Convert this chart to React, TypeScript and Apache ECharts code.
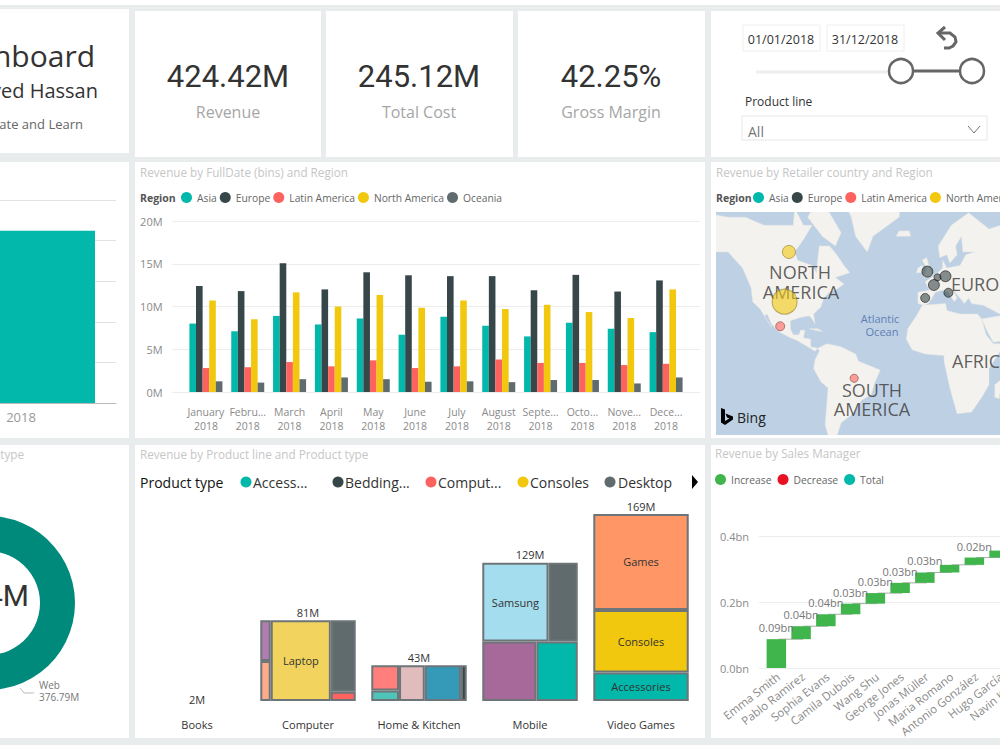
import React, { useEffect, useRef } from "react";
import * as echarts from "echarts";

const FONT = '"Open Sans", sans-serif';
const C_ASIA = "#01b8aa";
const C_EUROPE = "#374649";
const C_LATIN = "#fd625e";
const C_NORTH = "#f2c80f";
const C_OCEANIA = "#5f6b6d";

// KPI
const kpiValues = ["424.42M", "245.12M", "42.25%"];
const kpiLabels = ["Revenue", "Total Cost", "Gross Margin"];

// left bar
const yearCategories = ["2018"];
const yearRevenue = [424.42];

// donut
const orderMethods = ["Web", "Other"];
const orderRevenue = [376.79, 47.63];

// monthly
const monthLabels = ["January\n2018", "Febru...\n2018", "March\n2018", "April\n2018", "May\n2018", "June\n2018", "July\n2018", "August\n2018", "Septe...\n2018", "Octo...\n2018", "Nove...\n2018", "Dece...\n2018"];
const asiaRevenue = [8.0, 7.1, 8.9, 7.9, 8.6, 6.7, 8.8, 7.75, 6.5, 8.1, 7.4, 7.0];
const europeRevenue = [12.4, 11.8, 15.05, 12.0, 14.0, 13.65, 13.55, 13.55, 11.9, 13.7, 11.75, 13.05];
const latinRevenue = [2.8, 2.9, 3.5, 3.0, 3.7, 2.8, 3.0, 3.8, 3.4, 3.4, 3.15, 3.3];
const northRevenue = [10.7, 8.5, 11.65, 10.0, 11.35, 9.85, 10.7, 9.7, 10.2, 9.35, 8.65, 12.0];
const oceaniaRevenue = [1.25, 1.1, 1.5, 1.7, 1.5, 1.2, 1.25, 1.15, 1.4, 1.4, 1.0, 1.7];

// waterfall
const managers = ["Emma Smith", "Pablo Ramirez", "Sophia Evans", "Camila Dubois", "Wang Shu", "George Jones", "Jonas Müller", "Maria Romano", "Antonio González", "Hugo García", "Navin Kumar"];
const managerDeltas = [0.0874, 0.0392, 0.0362, 0.0322, 0.032, 0.031, 0.0314, 0.0232, 0.0221, 0.0211, 0.021];
const unlabelledManagers = ["Maria Romano", "Hugo García", "Navin Kumar"];

// treemap by product line: labels, then the heights as drawn in the picture
const productLines = ["Books", "Computer", "Home & Kitchen", "Mobile", "Video Games"];
const productTotals = [2, 81, 43, 129, 169];
const productHeights = [0, 73, 32.4, 125, 169];
const computerColumns = [[4.05, 3.96], [45.9], [16.83, 2.16]];
const computerColors = [["#b07fb0", "#fdab89"], ["#f2d35e"], ["#5f6b6d", "#fd625e"]];
const computerNames = [["", ""], ["Laptop"], ["", ""]];
const homeColumns = [[6.63, 2.79], [8.74], [12.28], [1.96]];
const homeColors = [["#fe7f7b", "#4fc4b9"], ["#e0bcbd"], ["#3599b8"], ["#374649"]];
const homeNames = [["", ""], [""], [""], [""]];
const mobileRows = [[49.4, 21.8], [30.5, 23.3]];
const mobileColors = [["#a4ddee", "#5f6b6d"], ["#a66999", "#01b8aa"]];
const mobileNames = [["Samsung", ""], ["", ""]];
const videoRows = [[86.7], [56.6], [25.7]];
const videoColors = [["#fe9666"], ["#f2c80f"], ["#01b8aa"]];
const videoNames = [["Games"], ["Consoles"], ["Accessories"]];

// map bubbles: lon, lat, revenue
const northBubbles = [[-98, 60, 34], [-101, 38, 125]];
const latinBubbles = [[-104, 23.5, 16], [-53, -11.6, 13]];
const europeBubbles = [[-2.5, 52.5, 24], [4.5, 50, 10], [10, 50.5, 24], [2, 46.5, 24], [12, 42.7, 16], [-4, 40, 16]];

// decorative land outlines
const landNorthAmerica = [[-168, 65], [-162, 70], [-156, 71], [-140, 70], [-128, 70], [-115, 68], [-105, 68], [-95, 68], [-94, 72], [-88, 68], [-82, 68], [-88, 64], [-94, 60], [-92, 57], [-82, 55], [-79, 52], [-78, 58], [-77, 62], [-70, 62], [-65, 59], [-60, 55], [-56, 52], [-66, 50], [-60, 47], [-66, 44], [-70, 43], [-74, 40], [-76, 35], [-81, 31], [-80, 25], [-82, 28], [-84, 30], [-90, 29], [-97, 27], [-97, 22], [-95, 18], [-91, 18], [-90, 21], [-87, 21], [-88, 16], [-83, 15], [-83, 10], [-78, 9], [-80, 7], [-85, 10], [-92, 14], [-97, 16], [-105, 20], [-110, 25], [-113, 31], [-115, 30], [-110, 23], [-115, 30], [-118, 34], [-123, 38], [-124, 45], [-130, 54], [-140, 60], [-150, 60], [-158, 57], [-165, 60]];
const landGreenland = [[-73, 78], [-60, 82], [-30, 83], [-18, 78], [-22, 70], [-40, 65], [-44, 60], [-52, 65], [-55, 70], [-65, 76]];
const landBaffin = [[-80, 73], [-70, 71], [-62, 66], [-66, 62], [-75, 65], [-85, 70]];
const landArctic = [[-120, 72], [-105, 73], [-100, 76], [-85, 76], [-70, 80], [-90, 82], [-115, 77]];
const landSouthAmerica = [[-78, 9], [-72, 12], [-62, 10], [-52, 5], [-50, 0], [-35, -6], [-39, -15], [-41, -22], [-48, -26], [-54, -34], [-62, -39], [-68, -52], [-73, -40], [-71, -18], [-76, -14], [-81, -5], [-80, 1], [-77, 7]];
const landAfrica = [[-17, 15], [-16, 22], [-10, 30], [-6, 36], [10, 37], [11, 33], [20, 31], [32, 31], [35, 28], [38, 18], [43, 12], [51, 12], [40, -5], [40, -16], [35, -24], [28, -33], [18, -34], [13, -18], [9, 0], [9, 4], [-4, 5], [-13, 8]];
const landEurasia = [[-9, 37], [-9, 43], [-1, 44], [-4, 48], [3, 51], [8, 54], [8, 57], [11, 54], [20, 55], [24, 59], [30, 60], [22, 60], [21, 65], [17, 62], [18, 59], [13, 56], [11, 59], [6, 58], [5, 62], [14, 68], [26, 71], [40, 67], [48, 68], [70, 70], [70, 30], [50, 30], [36, 36], [28, 37], [26, 40], [23, 37], [20, 40], [14, 45], [18, 40], [16, 38], [12, 43], [8, 44], [3, 43], [0, 39], [-2, 37], [-5, 36]];
const landArabia = [[35, 28], [48, 30], [55, 25], [58, 20], [50, 14], [43, 13], [39, 20]];
const landBritain = [[-5, 50], [1, 51], [-2, 56], [-3, 58], [-6, 57], [-3, 54]];
const landIreland = [[-10, 52], [-6, 52], [-6, 55], [-9, 54]];
const landIceland = [[-24, 65], [-14, 65], [-15, 66.5], [-22, 66.5]];
const landCuba = [[-84, 22], [-75, 20], [-78, 22]];
const landMadagascar = [[44, -16], [49, -12], [47, -25], [44, -24]];
const landShapes = [landNorthAmerica, landGreenland, landBaffin, landArctic, landSouthAmerica, landAfrica, landEurasia, landArabia, landBritain, landIreland, landIceland, landCuba, landMadagascar];

const merc = (lat: number) => (Math.log(Math.tan(Math.PI / 4 + (lat * Math.PI) / 360)) * 180) / Math.PI;
const bubbleData = (rows: number[][]) => rows.map((r) => [r[0], merc(r[1]), r[2]]);
const bubbleSize = (v: number[]) => Math.sqrt(v[2]) * 2.236;

type Cell = number[];
const cellNames: string[] = [];
const cellColors: string[] = [];
const addCell = (row: Cell[], cat: number, f0: number, f1: number, v0: number, v1: number, name: string, color: string) => {
  cellNames.push(name);
  cellColors.push(color);
  row.push([cat, f0, f1, v0, v1, cellNames.length - 1]);
};
const layoutColumns = (out: Cell[], cat: number, cols: number[][], colors: string[][], names: string[][]) => {
  const total = cols.reduce((a, c) => a + c.reduce((x, y) => x + y, 0), 0);
  let used = 0;
  cols.forEach((col, i) => {
    const sum = col.reduce((x, y) => x + y, 0);
    let top = total;
    col.forEach((v, j) => {
      const h = (v / sum) * total;
      addCell(out, cat, used / total, (used + sum) / total, top - h, top, names[i][j], colors[i][j]);
      top -= h;
    });
    used += sum;
  });
};
const layoutRows = (out: Cell[], cat: number, rows: number[][], colors: string[][], names: string[][]) => {
  const total = rows.reduce((a, c) => a + c.reduce((x, y) => x + y, 0), 0);
  let top = total;
  rows.forEach((row, i) => {
    const sum = row.reduce((x, y) => x + y, 0);
    let used = 0;
    row.forEach((v, j) => {
      addCell(out, cat, used / sum, (used + v) / sum, top - sum, top, names[i][j], colors[i][j]);
      used += v;
    });
    top -= sum;
  });
};
const treeCells: Cell[] = [];
layoutColumns(treeCells, 1, computerColumns, computerColors, computerNames);
layoutColumns(treeCells, 2, homeColumns, homeColors, homeNames);
layoutRows(treeCells, 3, mobileRows, mobileColors, mobileNames);
layoutRows(treeCells, 4, videoRows, videoColors, videoNames);

const cum: number[] = [];
managerDeltas.reduce((a, d, i) => ((cum[i] = a + d), a + d), 0);
const bases = cum.map((c, i) => c - managerDeltas[i]);

const T = (text: string, x: number, y: number, size: number, color: string, o: any = {}) => ({
  type: "text",
  x,
  y,
  z: o.z ?? 1,
  silent: true,
  style: {
    text,
    fill: color,
    fontSize: size,
    fontFamily: o.family ?? FONT,
    fontWeight: o.weight ?? "normal",
    textAlign: o.align ?? "left",
    textVerticalAlign: "middle",
    opacity: o.opacity ?? 1,
  },
});
const R = (x: number, y: number, width: number, height: number, fill: string, stroke?: string, z = -3) => ({
  type: "rect",
  z,
  silent: true,
  shape: { x, y, width, height },
  style: { fill, stroke: stroke ?? undefined, lineWidth: stroke ? 1 : 0 },
});
const Dot = (x: number, y: number, fill: string) => ({ type: "circle", z: 1, silent: true, shape: { cx: x, cy: y, r: 5.5 }, style: { fill } });
const Line = (pts: number[][], stroke: string, lineWidth: number, z = 1) => ({ type: "polyline", z, silent: true, shape: { points: pts }, style: { stroke, lineWidth, fill: "none" } });

const GUTTER = "#e9ecec";
const GRAY_TITLE = "#c6c6c6";
const TICK = "#8a8a8a";

const graphics: any[] = [
  R(0, 5, 1000, 740, GUTTER, undefined, -5),
  R(0, 9, 129, 144, "#fff"),
  R(135, 11, 186, 146, "#fff"),
  R(326, 11, 187, 146, "#fff"),
  R(518, 11, 187, 146, "#fff"),
  R(711, 11, 289, 146, "#fff"),
  R(0, 162, 129, 276, "#fff"),
  R(135, 162, 570, 276, "#fff"),
  R(711, 162, 289, 276, "#fff"),
  R(0, 445, 129, 293, "#fff"),
  R(135, 445, 570, 293, "#fff"),
  R(711, 445, 289, 293, "#fff"),
  // title card
  T("Dashboard", 95, 55, 30, "#333", { align: "right" }),
  T("Javed Hassan", 98, 90, 20, "#333", { align: "right" }),
  T("Educate and Learn", 83, 124, 13, "#666", { align: "right" }),
  // KPI
  ...kpiValues.map((v, i) => T(v, [228, 419, 611][i], 76, 31, "#333", { align: "center", family: "Roboto" })),
  ...kpiLabels.map((v, i) => T(v, [228, 419, 611][i], 112, 16, "#a6a6a6", { align: "center" })),
  // slicer
  R(743, 25, 77, 26, "#fff", "#eeeeee", 0),
  R(827, 25, 77, 26, "#fff", "#eeeeee", 0),
  T("01/01/2018", 781, 39, 12.5, "#333", { align: "center" }),
  T("31/12/2018", 865, 39, 12.5, "#333", { align: "center" }),
  Line([[945, 27], [938, 33], [945, 40]], "#666", 3),
  Line([[939, 33], [950, 33], [955, 37], [956, 42], [953, 46], [949, 48], [944, 48]], "#666", 3),
  Line([[756, 72], [902, 72]], "#eeeeee", 3),
  Line([[902, 71], [972, 71]], "#666", 3),
  { type: "circle", z: 2, silent: true, shape: { cx: 901, cy: 71, r: 12 }, style: { fill: "#fff", stroke: "#666", lineWidth: 2.5 } },
  { type: "circle", z: 2, silent: true, shape: { cx: 972, cy: 71, r: 12 }, style: { fill: "#fff", stroke: "#666", lineWidth: 2.5 } },
  T("Product line", 745, 101, 12, "#333"),
  R(742, 116, 245, 24, "#fff", "#e6e6e6", 0),
  T("All", 748, 131, 14, "#777"),
  Line([[968, 126], [974, 133], [980, 126]], "#777", 1),
  // titles
  T("Revenue by FullDate (bins) and Region", 140, 171.5, 11.7, GRAY_TITLE),
  T("Revenue by Retailer country and Region", 716, 171.5, 11.7, GRAY_TITLE),
  T("Revenue by Product line and Product type", 140, 453.5, 11.7, GRAY_TITLE),
  T("Revenue by Sales Manager", 715, 453, 11.7, GRAY_TITLE),
  T("Revenue by Order method type", 24, 453.5, 11.7, GRAY_TITLE, { align: "right" }),
  T("Region", 140, 198, 10.5, "#555", { weight: "bold" }),
  T("Region", 716, 198, 10.5, "#555", { weight: "bold" }),
  // donut text
  T("424M", 29, 595, 30, "#333", { align: "right", family: "Roboto" }),
  T("Web", 39, 685, 10, "#777"),
  T("376.79M", 39, 697, 10, "#777"),
  Line([[20, 688], [24, 693], [34, 693]], "#bbb", 1),
  // tree legend
  T("Product type", 140, 482, 14, "#111"),
  ...[246, 338, 431, 523, 610].map((x, i) => Dot(x, 482, [C_ASIA, C_EUROPE, C_LATIN, C_NORTH, C_OCEANIA][i])),
  ...["Access...", "Bedding...", "Comput...", "Consoles", "Desktop"].map((t, i) => T(t, [253, 345, 438, 530, 618][i], 482, 14, "#333")),
  { type: "polygon", z: 1, silent: true, shape: { points: [[692, 475], [698, 482], [692, 489]] }, style: { fill: "#000" } },
  // map labels
  T("NORTH", 800, 272, 18, "#444", { align: "center", z: 3, opacity: 0.85 }),
  T("AMERICA", 801, 292, 18, "#444", { align: "center", z: 3, opacity: 0.85 }),
  T("SOUTH", 872, 390, 18, "#444", { align: "center", z: 3, opacity: 0.85 }),
  T("AMERICA", 872, 409, 18, "#444", { align: "center", z: 3, opacity: 0.85 }),
  T("EUROPE", 951, 284, 18, "#444", { z: 3, opacity: 0.85 }),
  T("AFRICA", 952, 361, 18, "#444", { z: 3, opacity: 0.85 }),
  T("Atlantic", 880, 318, 11, "#5f7fb5", { align: "center", z: 3 }),
  T("Ocean", 882, 331, 11, "#5f7fb5", { align: "center", z: 3 }),
  T("Bing", 737, 417, 14, "#222", { z: 3 }),
  { type: "polygon", z: 3, silent: true, shape: { points: [[721, 408], [725, 409.5], [725, 421], [729.5, 418.5], [727, 417.5], [725.5, 413.5], [733, 416.5], [733, 419.5], [725, 425], [721, 422.5]] }, style: { fill: "#000" } },
];

const hiddenAxis = { show: false };
const legendBase = {
  icon: "circle",
  itemWidth: 11,
  itemHeight: 11,
  selectedMode: false,
  width: 600,
  textStyle: { fontSize: 10.3, color: "#666", fontFamily: FONT },
  itemStyle: { opacity: 1, borderWidth: 0 },
  padding: 0,
};
const monthBar = (name: string, color: string, data: number[]) => ({
  type: "bar",
  name,
  xAxisIndex: 2,
  yAxisIndex: 2,
  barWidth: 6.6,
  barGap: 0,
  data,
  itemStyle: { color },
  silent: true,
});
const bubble = (name: string, color: string, border: string, rows: number[][]) => ({
  type: "scatter",
  name,
  xAxisIndex: 6,
  yAxisIndex: 6,
  z: 5,
  data: bubbleData(rows),
  symbolSize: bubbleSize,
  itemStyle: { color, opacity: 0.6, borderColor: border, borderWidth: 1 },
  silent: true,
});
const gridBase = { outerBoundsMode: "none", containLabel: false };

const option: any = {
  animation: false,
  textStyle: { fontFamily: FONT },
  graphic: { elements: graphics },
  legend: [
    { ...legendBase, left: 181, top: 192, itemGap: 3, data: ["Asia", "Europe", "Latin America", "North America", "Oceania"] },
    { ...legendBase, left: 753, top: 192, itemGap: 3, data: ["Asia", "Europe", "Latin America", "North America", "Oceania"] },
    { ...legendBase, left: 715, top: 474, itemGap: 6, data: ["Increase", "Decrease", "Total"] },
  ],
  grid: [
    { ...gridBase, left: -74, top: 200, width: 190, height: 203 },
    { ...gridBase, left: 172.6, top: 221, width: 527.4, height: 171 },
    { ...gridBase, left: 185, top: 221, width: 502, height: 171 },
    { ...gridBase, left: 759, top: 536, width: 300, height: 132 },
    { ...gridBase, left: 766, top: 536, width: 297, height: 132 },
    { ...gridBase, left: 141.5, top: 514, width: 555, height: 187 },
    { ...gridBase, left: 716, top: 212, width: 284, height: 223, show: true, backgroundColor: "#bdd0e4", borderWidth: 0 },
  ],
  xAxis: [
    { gridIndex: 0, type: "category", data: yearCategories, axisTick: { show: false }, axisLine: { lineStyle: { color: "#bbb" } }, axisLabel: { color: "#999", fontSize: 13, margin: 7 } },
    { gridIndex: 1, type: "value", min: 0, max: 1, show: false },
    { gridIndex: 2, type: "category", data: monthLabels, axisTick: { show: false }, axisLine: { show: false }, axisLabel: { color: TICK, fontSize: 10.5, lineHeight: 14, interval: 0, margin: 13 } },
    { gridIndex: 3, type: "value", min: 0, max: 1, show: false },
    { gridIndex: 4, type: "category", data: [...managers, ""], axisTick: { show: false }, axisLine: { show: false }, axisLabel: { color: TICK, fontSize: 11.5, rotate: 38, interval: 0, margin: 7, hideOverlap: false } },
    { gridIndex: 5, type: "category", data: productLines, axisTick: { show: false }, axisLine: { show: false }, axisLabel: { color: "#333", fontSize: 11, margin: 18 } },
    { gridIndex: 6, type: "value", min: -148.3, max: 47.6, ...hiddenAxis },
  ],
  yAxis: [
    { gridIndex: 0, type: "value", min: 0, max: 500, interval: 100, axisLabel: { show: false }, axisLine: { show: false }, axisTick: { show: false }, splitLine: { lineStyle: { color: "#e2e2e2" } } },
    { gridIndex: 1, type: "value", min: 0, max: 20, interval: 5, axisLine: { show: false }, axisTick: { show: false }, axisLabel: { color: TICK, fontSize: 11, margin: 10, formatter: (v: number) => `${v}M` }, splitLine: { lineStyle: { color: "#ececec" } } },
    { gridIndex: 2, type: "value", min: 0, max: 20, show: false },
    { gridIndex: 3, type: "value", min: 0, max: 0.4, interval: 0.2, axisLine: { show: false }, axisTick: { show: false }, axisLabel: { color: TICK, fontSize: 11, margin: 10, formatter: (v: number) => `${v.toFixed(1)}bn` }, splitLine: { lineStyle: { color: "#ececec" } } },
    { gridIndex: 4, type: "value", min: 0, max: 0.4, show: false },
    { gridIndex: 5, type: "value", min: 0, max: 169, show: false },
    { gridIndex: 6, type: "value", min: -50.8, max: 103, ...hiddenAxis },
  ],
  series: [
    { type: "bar", name: "Revenue", xAxisIndex: 0, yAxisIndex: 0, barWidth: 148, data: yearRevenue, itemStyle: { color: C_ASIA }, silent: true },
    {
      type: "pie",
      center: [-12, 603],
      radius: [52, 87],
      startAngle: 160,
      silent: true,
      label: { show: false },
      labelLine: { show: false },
      data: orderMethods.map((name, i) => ({ name, value: orderRevenue[i], itemStyle: { color: i === 0 ? "#008a7c" : C_ASIA } })),
    },
    monthBar("Asia", C_ASIA, asiaRevenue),
    monthBar("Europe", C_EUROPE, europeRevenue),
    monthBar("Latin America", C_LATIN, latinRevenue),
    monthBar("North America", C_NORTH, northRevenue),
    monthBar("Oceania", C_OCEANIA, oceaniaRevenue),
    // waterfall
    {
      type: "custom",
      xAxisIndex: 4,
      yAxisIndex: 4,
      silent: true,
      data: cum.map((c, i) => [i, c]),
      renderItem: (_p: any, api: any) => {
        const a = api.coord([api.value(0), api.value(1)]);
        const b = api.coord([api.value(0) + 1, api.value(1)]);
        return { type: "line", shape: { x1: a[0], y1: a[1], x2: b[0], y2: b[1] }, style: { stroke: "#aaa", lineWidth: 1 } };
      },
    },
    { type: "bar", name: "Base", stack: "wf", xAxisIndex: 4, yAxisIndex: 4, barWidth: 19.5, data: bases, itemStyle: { color: "transparent" }, silent: true, z: 3 },
    {
      type: "bar",
      name: "Increase",
      stack: "wf",
      xAxisIndex: 4,
      yAxisIndex: 4,
      barWidth: 19.5,
      z: 3,
      silent: true,
      itemStyle: { color: "#3fb54c" },
      data: managerDeltas.map((value, i) => ({
        value,
        label: {
          show: !unlabelledManagers.includes(managers[i]),
          position: "top",
          distance: 6,
          color: "#777",
          fontSize: 11,
          formatter: (p: any) => `${Number(p.value).toFixed(2)}bn`,
        },
      })),
    },
    { type: "bar", name: "Decrease", xAxisIndex: 4, yAxisIndex: 4, data: [], itemStyle: { color: "#e81123" } },
    { type: "bar", name: "Total", xAxisIndex: 4, yAxisIndex: 4, data: [], itemStyle: { color: C_ASIA } },
    // product tree cells
    {
      type: "custom",
      xAxisIndex: 5,
      yAxisIndex: 5,
      silent: true,
      data: treeCells,
      renderItem: (_p: any, api: any) => {
        const cat = api.value(0);
        const band = api.size([1, 0])[0];
        const markW = band * 0.86;
        const center = api.coord([cat, 0])[0];
        const x0 = center - markW / 2 + markW * api.value(1);
        const x1 = center - markW / 2 + markW * api.value(2);
        const yBottom = api.coord([cat, api.value(3)])[1];
        const yTop = api.coord([cat, api.value(4)])[1];
        const idx = api.value(5);
        const children: any[] = [
          {
            type: "rect",
            shape: { x: x0 + 1, y: yTop + 1, width: x1 - x0 - 2, height: yBottom - yTop - 2 },
            style: { fill: cellColors[idx], stroke: "#6d7578", lineWidth: 2 },
          },
        ];
        if (cellNames[idx]) {
          children.push({
            type: "text",
            x: (x0 + x1) / 2,
            y: (yTop + yBottom) / 2,
            style: { text: cellNames[idx], textAlign: "center", textVerticalAlign: "middle", fill: "#333", fontSize: 11, fontFamily: FONT },
          });
        }
        return { type: "group", children };
      },
    },
    {
      type: "custom",
      xAxisIndex: 5,
      yAxisIndex: 5,
      silent: true,
      data: productTotals.map((v, i) => [i, productHeights[i], v]),
      renderItem: (_p: any, api: any) => {
        const h = api.value(1);
        const p = api.coord([api.value(0), h]);
        return {
          type: "text",
          x: p[0],
          y: p[1] - (h > 0 ? 8 : 2),
          style: { text: `${api.value(2)}M`, textAlign: "center", textVerticalAlign: "middle", fill: "#333", fontSize: 11, fontFamily: FONT },
        };
      },
    },
    // map
    {
      type: "custom",
      xAxisIndex: 6,
      yAxisIndex: 6,
      z: 1,
      clip: true,
      silent: true,
      data: landShapes.map((_s, i) => [i]),
      encode: { x: -1, y: -1 },
      renderItem: (p: any, api: any) => ({
        type: "polygon",
        shape: { points: landShapes[p.dataIndex].map((q) => api.coord([q[0], merc(q[1])])) },
        style: { fill: "#f4f2ee", stroke: "#e6e6e2", lineWidth: 0.5 },
      }),
    },
    bubble("North America", C_NORTH, "#8a7a20", northBubbles),
    bubble("Latin America", C_LATIN, "#7a3a38", latinBubbles),
    bubble("Europe", C_EUROPE, "#111", europeBubbles),
  ],
};

export default function App() {
  const ref = useRef<HTMLDivElement>(null);
  useEffect(() => {
    const chart = echarts.init(ref.current as HTMLDivElement, undefined, { renderer: "svg" });
    chart.setOption(option);
    return () => chart.dispose();
  }, []);
  return <div ref={ref} style={{ position: "absolute", left: 0, top: 0, width: 1000, height: 750, overflow: "hidden", background: "#fff" }} />;
}
